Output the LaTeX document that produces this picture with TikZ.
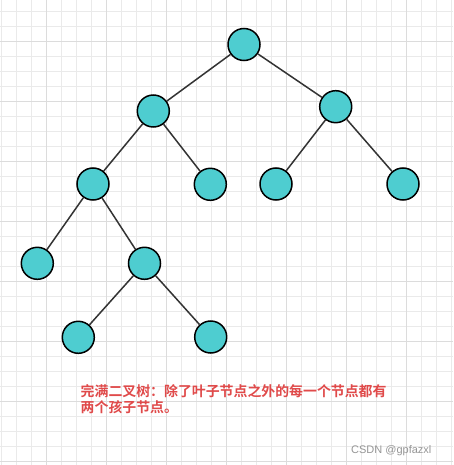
\documentclass[tikz,border=0pt]{standalone}
\usepackage{fontspec}
\usepackage{xcolor}
\usepackage{tikz}
\usetikzlibrary{arrows.meta,calc}
\setmainfont{Liberation Sans}
\newfontfamily\cjkbold{Noto Sans CJK SC Bold}
\definecolor{nodefill}{RGB}{78,205,208}
\definecolor{notered}{RGB}{224,74,74}
\definecolor{gridminor}{RGB}{234,234,234}
\definecolor{gridmajor}{RGB}{220,220,220}

\begin{document}
\begin{tikzpicture}[x=1pt,y=-1pt]
            \tikzset{vertex/.style = {circle,draw=black,fill=nodefill,line width=1.5pt,minimum size=32pt,inner sep=0pt}}
            \tikzset{edge/.style = {-,draw={rgb,255:red,51;green,51;blue,51},line width=1.5pt}}
            \useasboundingbox[fill=white] (0,0) rectangle (453,465);

            % grid
            \foreach \x in {0,...,30}
            {
              \draw[gridminor,line width=0.8pt] ({1.7+15*\x},0) -- ({1.7+15*\x},465);
            }
            \foreach \y in {0,...,30}
            {
              \draw[gridminor,line width=0.8pt] (0,{11.7+15*\y}) -- (453,{11.7+15*\y});
            }
            \foreach \x in {0,...,7}
            {
              \draw[gridmajor,line width=0.8pt] ({46.7+60*\x},0) -- ({46.7+60*\x},465);
            }
            \foreach \y in {-1,0,...,7}
            {
              \draw[gridmajor,line width=0.8pt] (0,{41.7+60*\y}) -- (453,{41.7+60*\y});
            }

            % vertices
            \node[vertex] (root) at (244,44.5) {};
            \node[vertex] (l) at (153.3,111) {};
            \node[vertex] (r) at (335.7,106.7) {};
            \node[vertex] (ll) at (93,184) {};
            \node[vertex] (lr) at (210.3,184.3) {};
            \node[vertex] (rl) at (276,184) {};
            \node[vertex] (rr) at (403,184) {};
            \node[vertex] (lll) at (37.3,263.3) {};
            \node[vertex] (llr) at (144.5,263.3) {};
            \node[vertex] (llrl) at (78.3,337.3) {};
            \node[vertex] (llrr) at (210.7,337) {};

            % edges
            \foreach \a/\b in {root/l,root/r,l/ll,l/lr,r/rl,r/rr,ll/lll,ll/llr,llr/llrl,llr/llrr}
            {
              \draw[edge] (\a) to (\b);
            }

            % caption
            \node[anchor=base west,inner sep=0pt,align=left,text=notered,font=\cjkbold\fontsize{13.9}{16}\selectfont] (caption) at (80.5,412)
              {完满二叉树：除了叶子节点之外的每一个节点都有\\两个孩子节点。};
            \node[anchor=base west,inner sep=0pt,text={rgb,255:red,150;green,150;blue,150},font=\fontsize{11}{13}\selectfont] (mark) at (351,453) {CSDN @gpfazxl};

          \end{tikzpicture}
\end{document}
